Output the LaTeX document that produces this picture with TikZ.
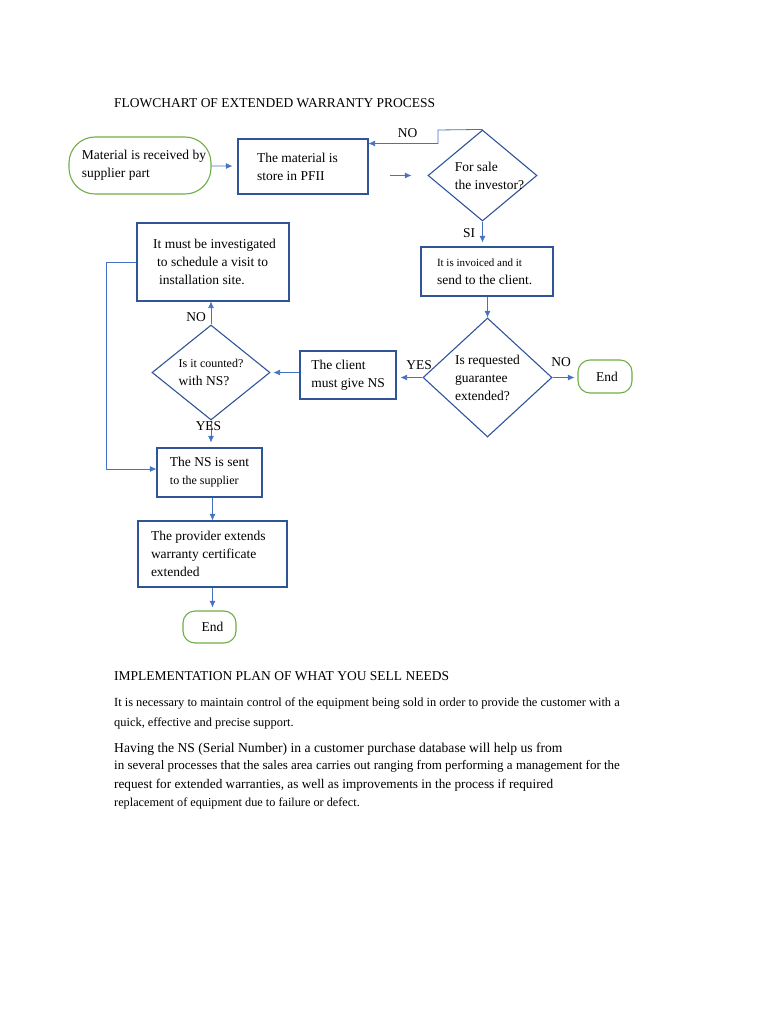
\documentclass[tikz,border=0pt]{standalone}
\usepackage{fontspec}
\setmainfont{Liberation Serif}
\usetikzlibrary{shapes.geometric,arrows.meta}
\definecolor{boxblue}{HTML}{2F5597}
\definecolor{arrowblue}{HTML}{4472C4}
\definecolor{termgreen}{HTML}{70AD47}
\tikzset{
  box/.style={draw=boxblue,line width=1.1pt,align=flush left,inner ysep=0pt,font=\fontsize{13.5}{18}\selectfont},
  term/.style={draw=termgreen,line width=1.1pt,rounded corners=13pt,align=left,inner ysep=0pt,font=\fontsize{13.5}{18}\selectfont},
  dec/.style={diamond,draw=boxblue,line width=1.1pt,align=left,inner sep=0pt,font=\fontsize{13.5}{18}\selectfont},
  arr/.style={-{Latex[length=6.5pt,width=6pt]},draw=arrowblue,line width=0.8pt},
  lbl/.style={inner sep=0pt,font=\fontsize{13.5}{16}\selectfont},
  txt/.style={anchor=base west,inner sep=0pt}
}
\begin{document}
\begin{tikzpicture}[x=1pt,y=-1pt]
\useasboundingbox (0,0) rectangle (768,1024);
\node[txt,font=\fontsize{13.5}{16}\selectfont] (title) at (114,107.5) {FLOWCHART OF EXTENDED WARRANTY PROCESS};
% flowchart
\node[term,minimum width=142pt,minimum height=57pt,rounded corners=26pt] (recv) at (140,165.5) {\hspace*{4pt}Material is received by\hspace*{-4pt}\\\hspace*{4pt}supplier part};
\node[box,minimum width=130pt,minimum height=55pt,text width=92pt,inner xsep=19pt] (store) at (303,166.5) {The material is\\store in PFII};
\node[dec,aspect=1.2,minimum width=109pt,minimum height=91pt] (sale) at (482.5,175.5) {\hspace*{7pt}For sale\hspace*{-7pt}\\\hspace*{7pt}the investor?\hspace*{-7pt}};
\node[box,minimum width=132pt,minimum height=49pt,text width=100pt,inner xsep=16pt] (invoice) at (487,271.5) {{\fontsize{11}{18}\selectfont It is invoiced and it}\\send to the client.};
\node[dec,aspect=1.08,minimum width=129pt,minimum height=119pt] (guar) at (487.5,377.5) {Is requested\\guarantee\\extended?};
\node[term,minimum width=54pt,minimum height=33pt,rounded corners=12pt] (end1) at (605,376.5) {\hspace*{4pt}End};
\node[box,align=left,minimum width=96pt,minimum height=48pt] (client) at (348,375) {The client\\must give NS};
\node[dec,aspect=1.24,minimum width=118pt,minimum height=95pt] (count) at (211,372.5) {{\fontsize{12}{18}\selectfont Is it counted?}\\with NS?};
\node[box,align=left,minimum width=152pt,minimum height=78pt] (invest) at (213,262) {\hspace*{3pt}It must be investigated\\\hspace*{7pt}to schedule a visit to\\\hspace*{9pt}installation site.};
\node[box,align=left,minimum width=105pt,minimum height=49pt] (nssent) at (209.5,472.5) {The NS is sent\\{\fontsize{12}{17}\selectfont to the supplier}};
\node[box,minimum width=149pt,minimum height=66pt,text width=123pt,inner xsep=13pt] (prov) at (212.5,554) {The provider extends\\warranty certificate\\extended};
\node[term,minimum width=53pt,minimum height=32pt,rounded corners=12pt] (end2) at (209.5,627) {\hspace*{6pt}End};
% connectors
\draw[arr,shorten >=5pt] (recv) -- (store);
\draw[arr,shorten <=21pt,shorten >=16pt] (store.east |- sale.west) -- (sale.west);
\draw[arr] (sale.north) -- (438,130) -- (438,143.5) -- ([yshift=23pt]store.east);
\draw[arr,shorten >=4pt] (sale.south) -- (sale.south |- invoice.north);
\draw[arr] (invoice.south -| guar.north) -- (guar.north);
\draw[arr,shorten >=3pt] (guar.east) -- (guar.east -| end1.west);
\draw[arr,shorten >=4pt] (guar.west) -- (guar.west -| client.east);
\draw[arr,shorten >=3pt] (client.west |- count.east) -- (count.east);
\draw[arr] (count.north) -- (count.north |- invest.south);
\draw[arr,shorten >=5pt] (count.south) -- (count.south |- nssent.north);
\draw[arr] (invest.west) -- ++(-30,0) |- ([yshift=3.5pt]nssent.west);
\draw[arr] (prov.north |- nssent.south) -- (prov.north);
\draw[arr,shorten >=3pt] (prov.south) -- (prov.south |- end2.north);
% labels
\node[lbl] (lno1) at (407.5,133) {NO};
\node[lbl] (lsi) at (469,233) {SI};
\node[lbl] (lno2) at (561,362) {NO};
\node[lbl] (lyes1) at (419,365) {YES};
\node[lbl] (lno3) at (196,317) {NO};
\node[lbl] (lyes2) at (208.5,426) {YES};
% text below
\node[txt,font=\fontsize{13.5}{16}\selectfont] (plan) at (114,680.5) {IMPLEMENTATION PLAN OF WHAT YOU SELL NEEDS};
\node[txt,font=\fontsize{12.4}{14}\selectfont] (pa1) at (114,706) {It is necessary to maintain control of the equipment being sold in order to provide the customer with a};
\node[txt,font=\fontsize{12.4}{14}\selectfont] (pa2) at (114,726) {quick, effective and precise support.};
\node[txt,font=\fontsize{13.6}{16}\selectfont] (pb1) at (114,752) {Having the NS (Serial Number) in a customer purchase database will help us from};
\node[txt,font=\fontsize{13}{15}\selectfont] (pb2) at (114,769) {in several processes that the sales area carries out ranging from performing a management for the};
\node[txt,font=\fontsize{13.25}{15}\selectfont] (pb3) at (114,788) {request for extended warranties, as well as improvements in the process if required};
\node[txt,font=\fontsize{12.25}{14}\selectfont] (pb4) at (114,806) {replacement of equipment due to failure or defect.};
\end{tikzpicture}
\end{document}
